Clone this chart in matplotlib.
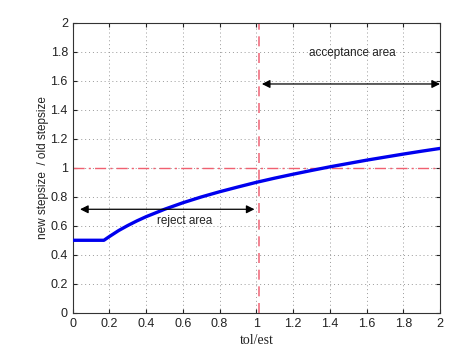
import matplotlib
matplotlib.use('Agg')
import matplotlib.pyplot as plt

# values
ratio = [0.0, 0.17, 0.2, 0.25, 0.3, 0.35, 0.4, 0.5, 0.6, 0.7, 0.8, 0.9, 1.0,
         1.1, 1.2, 1.3, 1.4, 1.5, 1.6, 1.7, 1.8, 1.9, 2.0]
step = [0.5, 0.5, 0.526, 0.567, 0.602, 0.634, 0.663, 0.714, 0.759, 0.799,
        0.835, 0.868, 0.9, 0.929, 0.956, 0.982, 1.007, 1.030, 1.053, 1.074,
        1.095, 1.115, 1.134]

xticks = [0, 0.2, 0.4, 0.6, 0.8, 1, 1.2, 1.4, 1.6, 1.8, 2]
yticks = [0, 0.2, 0.4, 0.6, 0.8, 1, 1.2, 1.4, 1.6, 1.8, 2]

plt.rcParams['font.family'] = ['Liberation Sans', 'DejaVu Sans']

fig = plt.figure(figsize=(4.74, 3.55), dpi=100)
ax = fig.add_axes([72.7 / 474, 1 - 312.7 / 355, 367.3 / 474, 289.7 / 355])

ax.plot(ratio, step, color='#0000ee', lw=2.4, zorder=3)
ax.axhline(1, color='#f06070', lw=1, ls=(0, (8, 3, 1.5, 3)))
ax.axvline(1.014, color='#f07080', lw=1.2, ls=(0, (6, 4)))

arrow = dict(arrowstyle='<|-|>', color='black', lw=0.9,
             mutation_scale=12, shrinkA=0, shrinkB=0)
ax.annotate('', xy=(0.04, 0.714), xytext=(0.99, 0.714), arrowprops=arrow)
ax.annotate('', xy=(1.03, 1.579), xytext=(2.0, 1.579), arrowprops=arrow)
ax.text(0.61, 0.635, 'reject area', ha='center', va='center', fontsize=8.5,
        color='#222222')
ax.text(1.52, 1.79, 'acceptance area', ha='center', va='center', fontsize=8.5,
        color='#222222')

ax.set_xlim(0, 2)
ax.set_ylim(0, 2)
ax.set_xticks(xticks)
ax.set_yticks(yticks)
ax.set_xticklabels([('%g' % v) for v in xticks])
ax.set_yticklabels([('%g' % v) for v in yticks])
ax.tick_params(direction='in', labelsize=9, length=3, top=True, right=True,
               colors='#222222')
ax.grid(True, ls=(0, (1, 3)), color='#999999', lw=0.7)
for s in ax.spines.values():
    s.set_linewidth(0.8)
    s.set_color('#333333')

ax.set_xlabel('tol/est', family='Liberation Serif', fontsize=10, labelpad=3,
              color='#222222')
ax.set_ylabel('new stepsize  / old stepsize', fontsize=8.5, labelpad=1,
              color='#222222')

fig.savefig('out.png', dpi=100)
